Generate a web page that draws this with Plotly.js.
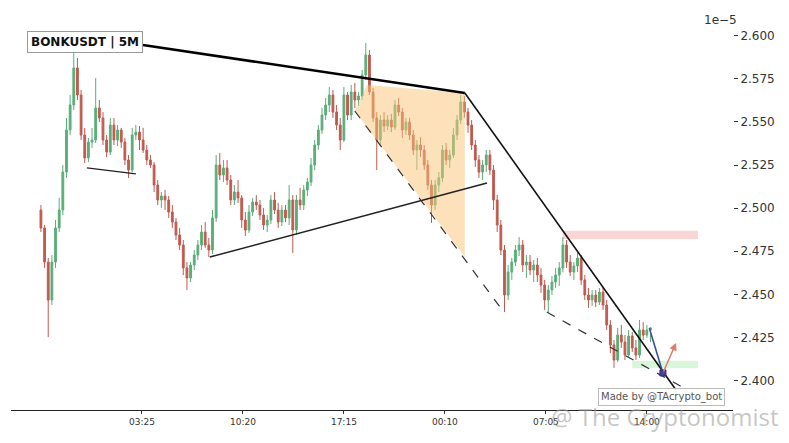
<!DOCTYPE html>
<html>
<head>
<meta charset="utf-8">
<script src="https://cdn.plot.ly/plotly-3.0.1.min.js"></script>
<style>html,body{margin:0;padding:0;background:#fff}#chart{width:789px;height:443px}</style>
</head>
<body>
<div id="chart"></div>
<script>
// 15-minute candles (values in units of 1e-5 USDT), first candle at 2024-01-01 20:30
const candleStart = '2024-01-01T20:30:00Z';
const candleStepMinutes = 15;
const openVals = [2.4989,2.4885,2.4687,2.4467,2.4687,2.4885,2.4989,2.5209,2.5453,2.5598,
2.5813,2.5656,2.5424,2.5291,2.5383,2.5395,2.5581,2.5523,2.5395,2.5325,
2.5482,2.5395,2.5453,2.5383,2.5279,2.5221,2.5424,2.5441,2.5395,2.5337,
2.5279,2.5250,2.5134,2.5047,2.5070,2.5047,2.4977,2.4919,2.4844,2.4786,
2.4653,2.4595,2.4670,2.4728,2.4786,2.4861,2.4786,2.4757,2.4943,2.5250,
2.5192,2.5233,2.5163,2.5047,2.5093,2.5059,2.4931,2.4873,2.4977,2.5035,
2.5018,2.4960,2.4902,2.4931,2.5047,2.4989,2.4919,2.4989,2.4943,2.5047,
2.4873,2.5047,2.5018,2.5105,2.5151,2.5250,2.5366,2.5453,2.5540,2.5598,
2.5656,2.5557,2.5482,2.5395,2.5656,2.5540,2.5673,2.5627,2.5650,2.5772,
2.5888,2.5673,2.5523,2.5395,2.5511,2.5476,2.5511,2.5470,2.5598,2.5557,
2.5453,2.5499,2.5424,2.5337,2.5366,2.5337,2.5250,2.5134,2.5018,2.5134,
2.5175,2.5337,2.5279,2.5308,2.5424,2.5511,2.5615,2.5557,2.5482,2.5366,
2.5279,2.5209,2.5250,2.5308,2.5221,2.5047,2.4902,2.4757,2.4496,2.4629,
2.4687,2.4757,2.4786,2.4670,2.4687,2.4641,2.4670,2.4612,2.4554,2.4467,
2.4525,2.4571,2.4612,2.4653,2.4786,2.4687,2.4629,2.4664,2.4711,2.4583,
2.4496,2.4467,2.4496,2.4455,2.4513,2.4438,2.4322,2.4206,2.4119,2.4264,
2.4223,2.4148,2.4258,2.4189,2.4148,2.4293,2.4264,2.4293];
const highVals = [2.5018,2.4902,2.4711,2.4728,2.4931,2.5059,2.5250,2.5523,2.5656,2.5900,
2.5871,2.5685,2.5465,2.5407,2.5465,2.5755,2.5627,2.5557,2.5424,2.5523,
2.5523,2.5482,2.5465,2.5407,2.5308,2.5465,2.5482,2.5476,2.5465,2.5366,
2.5308,2.5267,2.5163,2.5093,2.5105,2.5070,2.5018,2.4943,2.4885,2.4815,
2.4687,2.4687,2.4757,2.4815,2.4902,2.4919,2.4827,2.4989,2.5308,2.5320,
2.5279,2.5279,2.5192,2.5134,2.5163,2.5076,2.4977,2.5018,2.5059,2.5076,
2.5047,2.5001,2.4960,2.5076,2.5093,2.5030,2.5018,2.5018,2.5134,2.5076,
2.5076,2.5117,2.5134,2.5175,2.5291,2.5395,2.5482,2.5581,2.5639,2.5702,
2.5685,2.5598,2.5523,2.5702,2.5673,2.5714,2.5726,2.5673,2.5801,2.5958,
2.5917,2.5697,2.5557,2.5540,2.5557,2.5540,2.5546,2.5627,2.5639,2.5581,
2.5523,2.5523,2.5453,2.5395,2.5412,2.5366,2.5279,2.5163,2.5163,2.5209,
2.5366,2.5378,2.5337,2.5465,2.5540,2.5656,2.5650,2.5581,2.5511,2.5395,
2.5308,2.5279,2.5337,2.5337,2.5250,2.5076,2.4931,2.4786,2.4670,2.4711,
2.4786,2.4832,2.4815,2.4728,2.4728,2.4699,2.4711,2.4653,2.4583,2.4554,
2.4606,2.4653,2.4687,2.4832,2.4815,2.4728,2.4687,2.4745,2.4728,2.4612,
2.4537,2.4525,2.4525,2.4537,2.4537,2.4467,2.4351,2.4235,2.4305,2.4322,
2.4264,2.4293,2.4281,2.4235,2.4351,2.4339,2.4322,2.4310];
const lowVals = [2.4861,2.4653,2.4252,2.4438,2.4653,2.4861,2.4960,2.5175,2.5424,2.5569,
2.5627,2.5395,2.5262,2.5267,2.5349,2.5378,2.5499,2.5366,2.5296,2.5308,
2.5366,2.5360,2.5349,2.5250,2.5175,2.5209,2.5395,2.5337,2.5320,2.5250,
2.5233,2.5093,2.5018,2.5001,2.4989,2.4943,2.4885,2.4815,2.4757,2.4612,
2.4525,2.4571,2.4641,2.4699,2.4757,2.4769,2.4716,2.4734,2.4919,2.5163,
2.5151,2.5134,2.5018,2.5018,2.5030,2.4885,2.4838,2.4856,2.4954,2.4989,
2.4931,2.4873,2.4861,2.4908,2.4966,2.4885,2.4896,2.4919,2.4902,2.4740,
2.4844,2.4989,2.4989,2.5070,2.5128,2.5221,2.5337,2.5430,2.5511,2.5557,
2.5523,2.5453,2.5337,2.5383,2.5511,2.5511,2.5581,2.5592,2.5627,2.5743,
2.5656,2.5499,2.5221,2.5366,2.5441,2.5453,2.5441,2.5453,2.5534,2.5407,
2.5424,2.5395,2.5308,2.5221,2.5296,2.5221,2.5105,2.4914,2.4989,2.5093,
2.5151,2.5250,2.5233,2.5291,2.5395,2.5488,2.5523,2.5436,2.5337,2.5238,
2.5175,2.5163,2.5209,2.5192,2.4989,2.4861,2.4728,2.4397,2.4467,2.4583,
2.4664,2.4722,2.4629,2.4595,2.4612,2.4571,2.4571,2.4508,2.4409,2.4397,
2.4496,2.4537,2.4548,2.4629,2.4653,2.4606,2.4583,2.4629,2.4554,2.4467,
2.4421,2.4432,2.4426,2.4438,2.4409,2.4293,2.4160,2.4073,2.4107,2.4189,
2.4119,2.4131,2.4165,2.4119,2.4131,2.4235,2.4247,2.4223];
const closeVals = [2.4885,2.4687,2.4467,2.4687,2.4885,2.4989,2.5209,2.5453,2.5598,2.5813,
2.5656,2.5424,2.5291,2.5383,2.5395,2.5581,2.5523,2.5395,2.5325,2.5482,
2.5395,2.5453,2.5383,2.5279,2.5221,2.5424,2.5441,2.5395,2.5337,2.5279,
2.5250,2.5134,2.5047,2.5070,2.5047,2.4977,2.4919,2.4844,2.4786,2.4653,
2.4595,2.4670,2.4728,2.4786,2.4861,2.4786,2.4757,2.4943,2.5250,2.5192,
2.5233,2.5163,2.5047,2.5093,2.5059,2.4931,2.4873,2.4977,2.5035,2.5018,
2.4960,2.4902,2.4931,2.5047,2.4989,2.4919,2.4989,2.4943,2.5047,2.4873,
2.5047,2.5018,2.5105,2.5151,2.5250,2.5366,2.5453,2.5540,2.5598,2.5656,
2.5557,2.5482,2.5395,2.5656,2.5540,2.5673,2.5627,2.5650,2.5772,2.5888,
2.5673,2.5523,2.5395,2.5511,2.5476,2.5511,2.5470,2.5598,2.5557,2.5453,
2.5499,2.5424,2.5337,2.5366,2.5337,2.5250,2.5134,2.5018,2.5134,2.5175,
2.5337,2.5279,2.5308,2.5424,2.5511,2.5615,2.5557,2.5482,2.5366,2.5279,
2.5209,2.5250,2.5308,2.5221,2.5047,2.4902,2.4757,2.4496,2.4629,2.4687,
2.4757,2.4786,2.4670,2.4687,2.4641,2.4670,2.4612,2.4554,2.4467,2.4525,
2.4571,2.4612,2.4653,2.4786,2.4687,2.4629,2.4664,2.4711,2.4583,2.4496,
2.4467,2.4496,2.4455,2.4513,2.4438,2.4322,2.4206,2.4119,2.4264,2.4223,
2.4148,2.4258,2.4189,2.4148,2.4293,2.4264,2.4293,2.4305];

// Axis ticks
const xTickTimes = ['2024-01-02 03:25','2024-01-02 10:20','2024-01-02 17:15','2024-01-03 00:10','2024-01-03 07:05','2024-01-03 14:00'];
const xTickLabels = ['03:25','10:20','17:15','00:10','07:05','14:00'];
const yTickVals = [2.400,2.425,2.450,2.475,2.500,2.525,2.550,2.575,2.600];
const yTickLabels = ['2.400','2.425','2.450','2.475','2.500','2.525','2.550','2.575','2.600'];

// Drawn pattern lines (time, price)
const upperTrendX = ['2024-01-02 03:29','2024-01-03 01:32','2024-01-03 16:00'];
const upperTrendY = [2.5946,2.5668,2.3945];
const leftSupportX = ['2024-01-01 23:39','2024-01-02 03:00'];
const leftSupportY = [2.5233,2.5198];
const risingLineX = ['2024-01-02 08:04','2024-01-03 03:03'];
const risingLineY = [2.4716,2.5146];
const dashAX = ['2024-01-02 18:00','2024-01-03 04:09'];
const dashAY = [2.5563,2.4403];
const dashBX = ['2024-01-03 07:09','2024-01-03 16:32'];
const dashBY = [2.4397,2.3957];
const zoneX = ['2024-01-02 18:00','2024-01-02 18:50','2024-01-03 01:32','2024-01-03 01:32'];
const zoneY = [2.5563,2.5714,2.5668,2.4716];
const projX = ['2024-01-03 14:10','2024-01-03 15:06'];
const projY = [2.4305,2.4044];
const arrowTail = ['2024-01-03 15:06', 2.4044];
const arrowHead = ['2024-01-03 16:00', 2.4218];
const resistZone = {x0:'2024-01-03 08:15', x1:'2024-01-03 17:30', y0:2.4821, y1:2.4869};
const supportZone = {x0:'2024-01-03 13:00', x1:'2024-01-03 17:30', y0:2.4071, y1:2.4115};

function fmt(ms){ return new Date(ms).toISOString().slice(0,16).replace('T',' '); }
const t0 = Date.parse(candleStart);
const candleTimes = closeVals.map((_, i) => fmt(t0 + i*candleStepMinutes*60000));

const lineTrace = (x, y, color, width, dash) => ({
  type:'scatter', mode:'lines', x, y, hoverinfo:'skip', showlegend:false,
  line:{color, width, dash: dash || 'solid'}
});

const traces = [
  {type:'scatter', mode:'lines', x: zoneX, y: zoneY, fill:'toself',
   fillcolor:'rgba(250,196,120,0.5)', line:{width:0}, hoverinfo:'skip', showlegend:false},
  {type:'candlestick', x: candleTimes, open: openVals, high: highVals, low: lowVals, close: closeVals,
   increasing:{line:{color:'#5aae78', width:1}, fillcolor:'#5aae78'},
   decreasing:{line:{color:'#c15a4f', width:1}, fillcolor:'#c15a4f'},
   whiskerwidth:0, showlegend:false, hoverinfo:'skip'},
  lineTrace([upperTrendX[0],upperTrendX[1]],[upperTrendY[0],upperTrendY[1]],'#000',2.6),
  lineTrace([upperTrendX[1],upperTrendX[2]],[upperTrendY[1],upperTrendY[2]],'#111',1.6),
  lineTrace(leftSupportX, leftSupportY, '#222', 1.3),
  lineTrace(risingLineX, risingLineY, '#222', 1.5),
  lineTrace(dashAX, dashAY, '#333', 1.2, 'dash'),
  lineTrace(dashBX, dashBY, '#333', 1.2, 'dash'),
  lineTrace(projX, projY, '#3d4f9a', 1.6),
  {type:'scatter', mode:'markers', x:[projX[1]], y:[projY[1]], hoverinfo:'skip', showlegend:false,
   marker:{symbol:'square', size:6, color:'#4b3f9e', line:{width:1,color:'#2c2a70'}}}
];

const layout = {
  width:789, height:443,
  margin:{l:11, r:56, t:25, b:33},
  paper_bgcolor:'#ffffff', plot_bgcolor:'#ffffff',
  showlegend:false,
  font:{family:'DejaVu Sans', color:'#333'},
  xaxis:{type:'date', range:['2024-01-01 18:27','2024-01-03 19:54'],
    tickmode:'array', tickvals:xTickTimes, ticktext:xTickLabels,
    showgrid:false, zeroline:false, showline:true, linecolor:'#222', linewidth:1.2,
    ticks:'outside', ticklen:3, tickcolor:'#333', tickfont:{size:9, color:'#333'},
    rangeslider:{visible:false}, fixedrange:true},
  yaxis:{side:'right', range:[2.3829, 2.6062], tickmode:'array', tickvals:yTickVals, ticktext:yTickLabels,
    showgrid:false, zeroline:false, showline:false, ticks:'outside', ticklen:4, tickcolor:'#333',
    tickfont:{size:12, color:'#333'}, fixedrange:true},
  shapes:[
    {type:'rect', xref:'x', yref:'y', x0:resistZone.x0, x1:resistZone.x1, y0:resistZone.y0, y1:resistZone.y1,
     fillcolor:'rgba(245,150,150,0.4)', line:{width:0}, layer:'below'},
    {type:'rect', xref:'x', yref:'y', x0:supportZone.x0, x1:supportZone.x1, y0:supportZone.y0, y1:supportZone.y1,
     fillcolor:'rgba(150,230,150,0.35)', line:{width:0}, layer:'below'}
  ],
  annotations:[
    {xref:'x', yref:'y', axref:'x', ayref:'y', x:arrowHead[0], y:arrowHead[1], ax:arrowTail[0], ay:arrowTail[1],
     text:'', showarrow:true, arrowhead:2, arrowsize:1, arrowwidth:1.5, arrowcolor:'#e07a6e'},
    {xref:'paper', yref:'paper', x:0.1025, y:0.956, xanchor:'center', yanchor:'middle',
     text:'<b>BONKUSDT | 5M</b>', showarrow:false, font:{family:'DejaVu Sans', size:12, color:'#111'},
     bgcolor:'#ffffff', bordercolor:'#999', borderwidth:1, borderpad:3},
    {xref:'paper', yref:'paper', x:0.982, y:1.013, xanchor:'center', yanchor:'middle',
     text:'1e\u22125', showarrow:false, font:{family:'DejaVu Sans', size:12, color:'#333'}},
    {xref:'paper', yref:'paper', x:0.9003, y:0.0338, xanchor:'center', yanchor:'middle',
     text:'Made by @TAcrypto_bot', showarrow:false, font:{family:'DejaVu Sans', size:10, color:'#555'},
     bgcolor:'rgba(255,255,255,0.85)', bordercolor:'#bbb', borderwidth:1, borderpad:2},
    {xref:'paper', yref:'paper', x:0.905, y:-0.016, xanchor:'center', yanchor:'middle',
     text:'@ The Cryptonomist', showarrow:false, font:{family:'Open Sans', size:24, color:'rgba(160,160,160,0.6)'}}
  ]
};

Plotly.newPlot('chart', traces, layout, {displayModeBar:false, staticPlot:true});
</script>
</body>
</html>
